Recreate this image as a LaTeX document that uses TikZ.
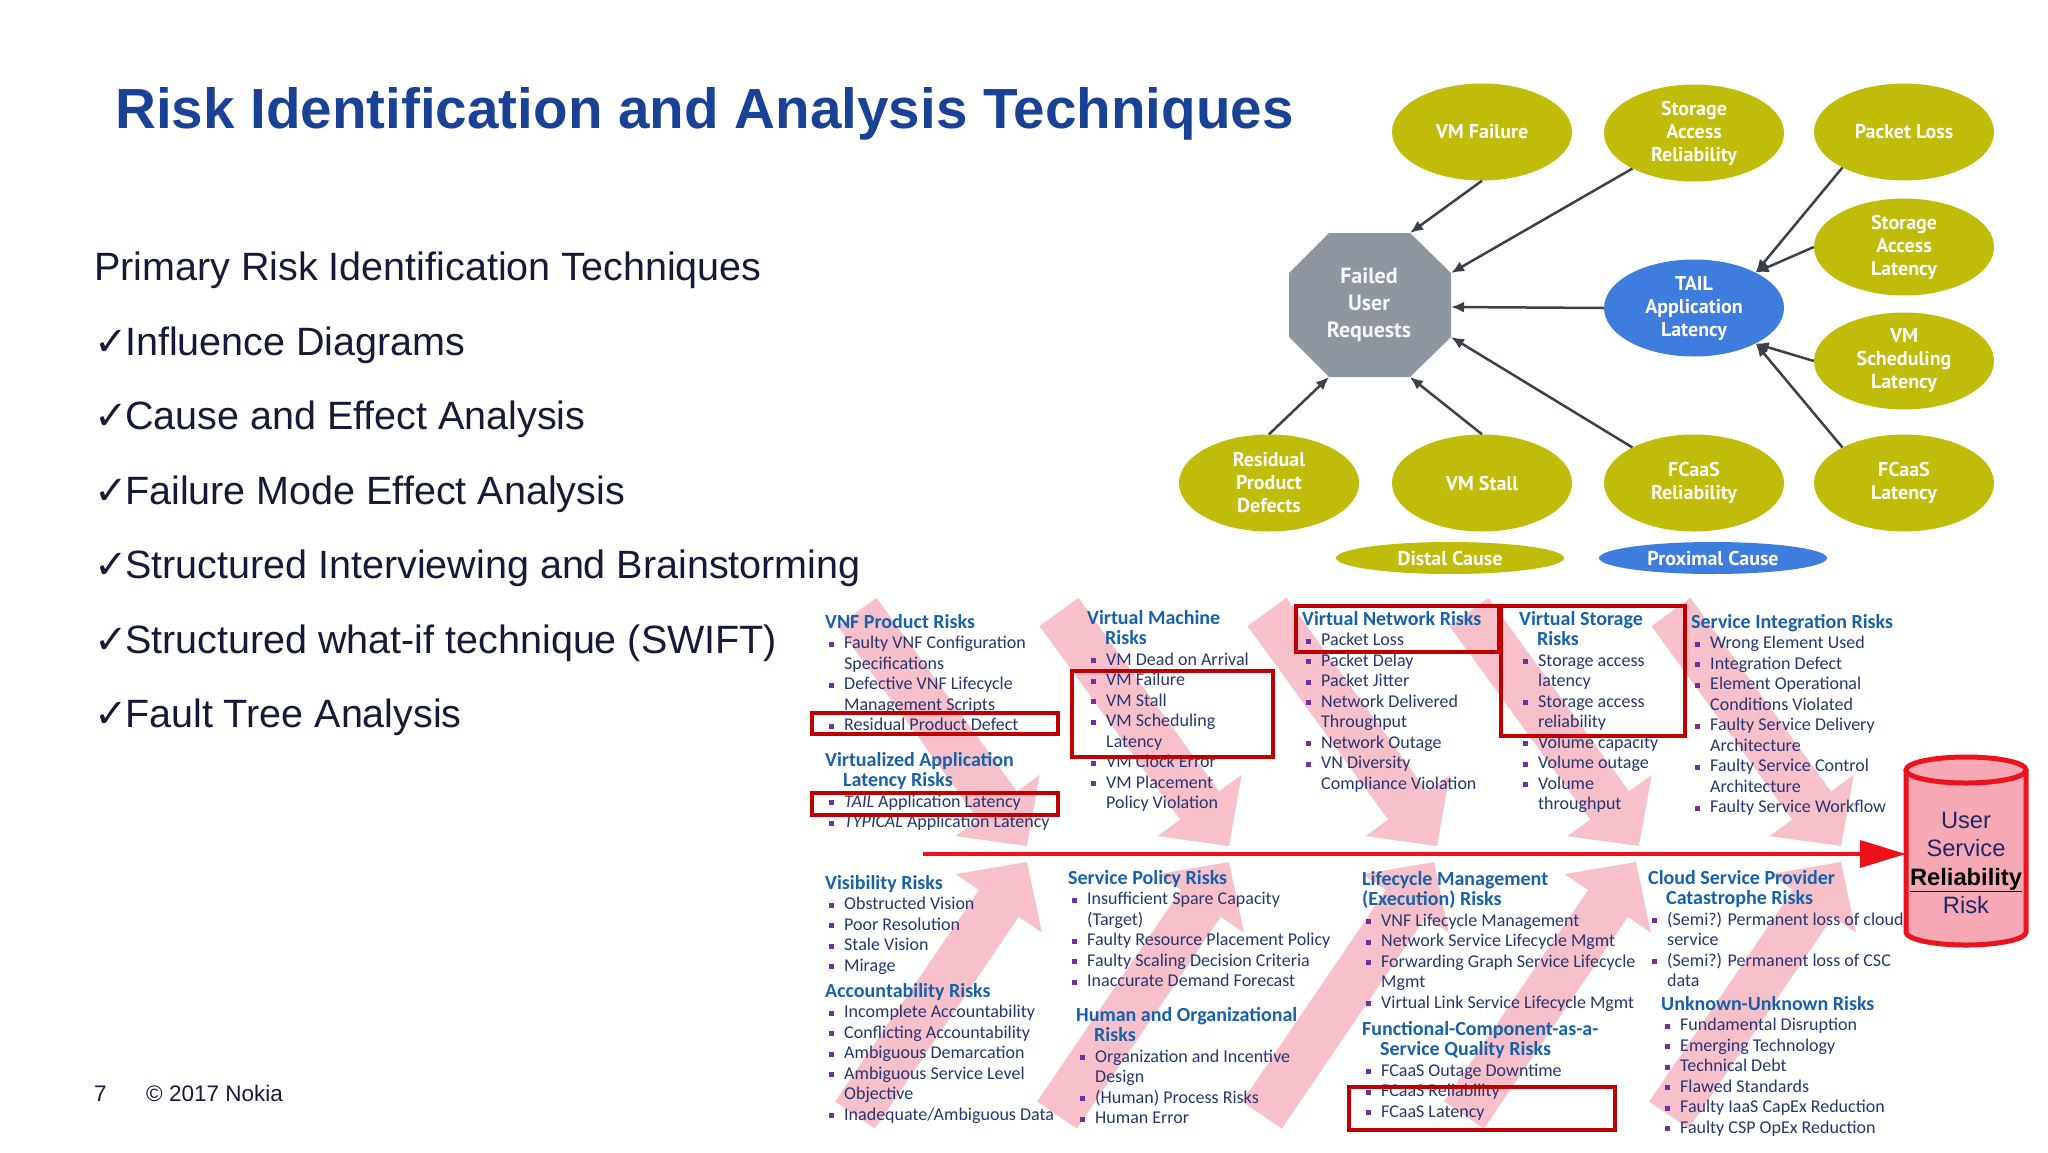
\documentclass[tikz,border=0pt]{standalone}
\usepackage{graphicx}
\usepackage{fontspec}
\setmainfont{Liberation Sans}
\newfontfamily\calfont{Carlito}
\newfontfamily\ptsfont{PT Sans}
\newfontfamily\djvfont{DejaVu Sans}
\usetikzlibrary{shapes.geometric,arrows.meta}
\definecolor{titc}{RGB}{25,65,150}
\definecolor{lstc}{RGB}{22,26,56}
\definecolor{olv}{RGB}{192,188,10}
\definecolor{blu}{RGB}{62,124,222}
\definecolor{octc}{RGB}{142,150,160}
\definecolor{iac}{RGB}{60,64,72}
\definecolor{hdc}{RGB}{22,98,170}
\definecolor{itc}{RGB}{40,54,112}
\definecolor{bulc}{RGB}{112,48,160}
\definecolor{pkc}{RGB}{248,192,202}
\definecolor{rbx}{RGB}{192,0,0}
\definecolor{spc}{RGB}{238,16,24}
\definecolor{cylf}{RGB}{246,168,180}
\definecolor{cyld}{RGB}{236,20,28}
\definecolor{cyltc}{RGB}{30,40,105}
\newcommand\rkS{\rule{0pt}{16pt}}
\newcommand\rkH[1]{{\fontsize{20}{20.5}\selectfont\bfseries\color{hdc}#1}}
\newcommand\rkHi[1]{\hspace*{18pt}\rkH{#1}}
\newcommand\rkB[1]{\hspace*{4pt}\makebox[15pt][l]{\textcolor{bulc}{\rule[2pt]{5pt}{5pt}}}#1}
\newcommand\rkC[1]{\hspace*{19pt}#1}
\newcommand\rkChk{\makebox[31pt][l]{\djvfont\fontsize{40}{40}\selectfont ✓}}
\newcommand\pkarrow[4]{%
  \pgfmathsetmacro\pkang{atan2(-(#4-#2),#3-#1)}%
  \pgfmathsetmacro\pklen{veclen(#3-#1,#4-#2)}%
  \fill[pkc,shift={(#1,#2)},rotate=\pkang] (0,-24) -- (\pklen-50,-24) -- (\pklen-50,-52) -- (\pklen,0) -- (\pklen-50,52) -- (\pklen-50,24) -- (0,24) -- cycle;}
\begin{document}
\begin{tikzpicture}[x=1pt,y=-1pt,
  lst/.style={anchor=base west, inner sep=0pt, text=lstc, font=\fontsize{39.5}{40}\selectfont},
  blk/.style={anchor=north west, inner sep=0pt, align=left, text=itc, font=\calfont\fontsize{18}{20.5}\selectfont},
  ov/.style={ellipse, fill=olv, minimum width=180pt, minimum height=97pt, inner sep=0pt, align=center, text=white, font=\ptsfont\bfseries\fontsize{20}{23}\selectfont},
  cause/.style={ov, minimum width=228pt, minimum height=32pt},
  ia/.style={draw=iac, line width=2.5pt, -{Latex[length=13pt,width=11pt]}},
  rbox/.style={draw=rbx, line width=3.5pt}]
\fill[white] (0,0) rectangle (2048,1152);
\useasboundingbox (0,0) rectangle (2048,1152);

% title and left list
\node[anchor=base west, inner sep=0pt, text=titc, font=\bfseries\fontsize{56.6}{57}\selectfont] (title) at (115,128) {Risk Identification and Analysis Techniques};
\node[lst] (p0) at (94,280) {Primary Risk Identification Techniques};
\node[lst] (p1) at (94,355) {\rkChk Influence Diagrams};
\node[lst] (p2) at (94,429) {\rkChk Cause and Effect Analysis};
\node[lst] (p3) at (94,504) {\rkChk Failure Mode Effect Analysis};
\node[lst] (p4) at (94,578) {\rkChk Structured Interviewing and Brainstorming};
\node[lst] (p5) at (94,653) {\rkChk Structured what-if technique (SWIFT)};
\node[lst] (p6) at (94,727) {\rkChk Fault Tree Analysis};
\node[anchor=base west, inner sep=0pt, text=lstc, font=\fontsize{22.5}{23}\selectfont] (pg) at (94,1101) {7};
\node[anchor=base west, inner sep=0pt, text=lstc, font=\fontsize{22.5}{23}\selectfont] (copy) at (146,1101) {© 2017 Nokia};

% influence diagram
\fill[octc] (1329,233) -- (1410,233) -- (1451,273) -- (1451,337) -- (1410,377) -- (1329,377) -- (1289,337) -- (1289,273) -- cycle;
\coordinate (o2) at (1410,233);
\coordinate (o3) at (1451,273);
\coordinate (omr) at (1451,307);
\coordinate (o4) at (1451,337);
\coordinate (o5) at (1410,377);
\coordinate (o6) at (1329,377);
\node[align=center, text=white!94!gray, font=\ptsfont\bfseries\fontsize{22}{27}\selectfont] (fur) at (1369,305) {Failed\\User\\Requests};
\node[ov] (vmf) at (1482,132) {VM Failure};
\node[ov] (sar) at (1694,133) {Storage\\Access\\Reliability};
\node[ov] (fcr) at (1694,483) {FCaaS\\Reliability};
\node[ov] (vms) at (1482,483) {VM Stall};
\node[ov] (res) at (1269,483) {Residual\\Product\\Defects};
\node[ov, fill=blu] (tail) at (1694,308) {TAIL\\Application\\Latency};
\begin{scope}
\clip (0,0) rectangle (1996,1152);
\node[ov] (pl) at (1904,132) {Packet Loss};
\node[ov] (sal) at (1904,247) {Storage\\Access\\Latency};
\node[ov] (vmsl) at (1904,361) {VM\\Scheduling\\Latency};
\node[ov] (fcl) at (1904,483) {FCaaS\\Latency};
\end{scope}
\node[cause] (dist) at (1450,558) {Distal Cause};
\node[cause, fill=blu] (prox) at (1713,558) {Proximal Cause};
\draw[ia] (vmf.south) -- (o2);
\draw[ia] (sar.210) -- (o3);
\draw[ia] (tail.west) -- (omr);
\draw[ia] (fcr.150) -- (o4);
\draw[ia] (vms.north) -- (o5);
\draw[ia] (res.north) -- (o6);
\draw[ia] (pl.210) -- (tail.30);
\draw[ia] (sal.west) -- (tail.30);
\draw[ia] (vmsl.west) -- (tail.-30);
\draw[ia] (fcl.150) -- (tail.-30);

% fishbone pink arrows
\pkarrow{857}{612}{1027}{846}
\pkarrow{1059}{612}{1229}{846}
\pkarrow{1267}{612}{1437}{846}
\pkarrow{1469}{612}{1639}{846}
\pkarrow{1671}{612}{1841}{846}
\pkarrow{855}{1115}{1027}{862}
\pkarrow{1057}{1115}{1229}{862}
\pkarrow{1262}{1115}{1434}{862}
\pkarrow{1464}{1115}{1636}{862}
\pkarrow{1669}{1115}{1841}{862}

% fishbone text blocks
\node[blk] (vnf) at (825,612) {\rkS\rkH{VNF Product Risks}\\
\rkB{Faulty VNF Configuration}\\
\rkC{Specifications}\\
\rkB{Defective VNF Lifecycle}\\
\rkC{Management Scripts}\\
\rkB{Residual Product Defect}};
\node[blk] (val) at (825,750) {\rkS\rkH{Virtualized Application}\\
\rkHi{Latency Risks}\\
\rkB{\textit{TAIL} Application Latency}\\
\rkB{\textit{TYPICAL} Application Latency}};
\node[blk] (vm) at (1087,608) {\rkS\rkH{Virtual Machine}\\
\rkHi{Risks}\\
\rkB{VM Dead on Arrival}\\
\rkB{VM Failure}\\
\rkB{VM Stall}\\
\rkB{VM Scheduling}\\
\rkC{Latency}\\
\rkB{VM Clock Error}\\
\rkB{VM Placement}\\
\rkC{Policy Violation}};
\node[blk] (vn) at (1302,609) {\rkS\rkH{Virtual Network Risks}\\
\rkB{Packet Loss}\\
\rkB{Packet Delay}\\
\rkB{Packet Jitter}\\
\rkB{Network Delivered}\\
\rkC{Throughput}\\
\rkB{Network Outage}\\
\rkB{VN Diversity}\\
\rkC{Compliance Violation}};
\node[blk] (vs) at (1519,609) {\rkS\rkH{Virtual Storage}\\
\rkHi{Risks}\\
\rkB{Storage access}\\
\rkC{latency}\\
\rkB{Storage access}\\
\rkC{reliability}\\
\rkB{Volume capacity}\\
\rkB{Volume outage}\\
\rkB{Volume}\\
\rkC{throughput}};
\node[blk] (si) at (1691,612) {\rkS\rkH{Service Integration Risks}\\
\rkB{Wrong Element Used}\\
\rkB{Integration Defect}\\
\rkB{Element Operational}\\
\rkC{Conditions Violated}\\
\rkB{Faulty Service Delivery}\\
\rkC{Architecture}\\
\rkB{Faulty Service Control}\\
\rkC{Architecture}\\
\rkB{Faulty Service Workflow}};
\node[blk] (vis) at (825,873) {\rkS\rkH{Visibility Risks}\\
\rkB{Obstructed Vision}\\
\rkB{Poor Resolution}\\
\rkB{Stale Vision}\\
\rkB{Mirage}};
\node[blk] (acc) at (825,981) {\rkS\rkH{Accountability Risks}\\
\rkB{Incomplete Accountability}\\
\rkB{Conflicting Accountability}\\
\rkB{Ambiguous Demarcation}\\
\rkB{Ambiguous Service Level}\\
\rkC{Objective}\\
\rkB{Inadequate/Ambiguous Data}};
\node[blk] (sp) at (1068,868) {\rkS\rkH{Service Policy Risks}\\
\rkB{Insufficient Spare Capacity}\\
\rkC{(Target)}\\
\rkB{Faulty Resource Placement Policy}\\
\rkB{Faulty Scaling Decision Criteria}\\
\rkB{Inaccurate Demand Forecast}};
\node[blk] (ho) at (1076,1005) {\rkS\rkH{Human and Organizational}\\
\rkHi{Risks}\\
\rkB{Organization and Incentive}\\
\rkC{Design}\\
\rkB{(Human) Process Risks}\\
\rkB{Human Error}};
\node[blk] (lm) at (1362,869) {\rkS\rkH{Lifecycle Management}\\
\rkH{(Execution) Risks}\\
\rkB{VNF Lifecycle Management}\\
\rkB{Network Service Lifecycle Mgmt}\\
\rkB{Forwarding Graph Service Lifecycle}\\
\rkC{Mgmt}\\
\rkB{Virtual Link Service Lifecycle Mgmt}};
\node[blk] (fc) at (1362,1019) {\rkS\rkH{Functional-Component-as-a-}\\
\rkHi{Service Quality Risks}\\
\rkB{FCaaS Outage Downtime}\\
\rkB{FCaaS Reliability}\\
\rkB{FCaaS Latency}};
\node[blk] (csp) at (1648,868) {\rkS\rkH{Cloud Service Provider}\\
\rkHi{Catastrophe Risks}\\
\rkB{(Semi?) Permanent loss of cloud}\\
\rkC{service}\\
\rkB{(Semi?) Permanent loss of CSC}\\
\rkC{data}};
\node[blk] (uu) at (1661,994) {\rkS\rkH{Unknown-Unknown Risks}\\
\rkB{Fundamental Disruption}\\
\rkB{Emerging Technology}\\
\rkB{Technical Debt}\\
\rkB{Flawed Standards}\\
\rkB{Faulty IaaS CapEx Reduction}\\
\rkB{Faulty CSP OpEx Reduction}};

% red highlight boxes
\draw[rbox] (812,713) rectangle (1058,734);
\draw[rbox] (812,793) rectangle (1058,815);
\draw[rbox] (1072,671) rectangle (1273,757);
\draw[rbox] (1296,606) rectangle (1499,652);
\draw[rbox] (1501,606) rectangle (1685,736);
\draw[rbox] (1349,1087) rectangle (1615,1130);

% spine and cylinder
\coordinate (spst) at (923,854);
\node[inner sep=0pt, minimum width=120pt, minimum height=188pt] (cyl) at (1966,854) {};
\draw[spc, line width=4pt, -{Triangle[length=46pt,width=27pt]}] (spst) -- (cyl.west);
\fill[cylf] (1906,770) -- (1906,932) arc[start angle=180,end angle=0,x radius=60,y radius=13] -- (2026,770) arc[start angle=0,end angle=180,x radius=60,y radius=13] -- cycle;
\draw[cyld, line width=5pt] (1906,770) -- (1906,932) arc[start angle=180,end angle=0,x radius=60,y radius=13] -- (2026,770);
\filldraw[fill=cylf, draw=cyld, line width=5pt] (1966,770) ellipse[x radius=60, y radius=13];
\node[anchor=north, inner sep=0pt, align=center, text=cyltc, font=\fontsize{23.7}{28.5}\selectfont] (usrtext) at (1966,808) {\rule{0pt}{20pt}User\\Service\\{\color{black}\bfseries\underline{Reliability}}\\Risk};
\end{tikzpicture}
\end{document}
